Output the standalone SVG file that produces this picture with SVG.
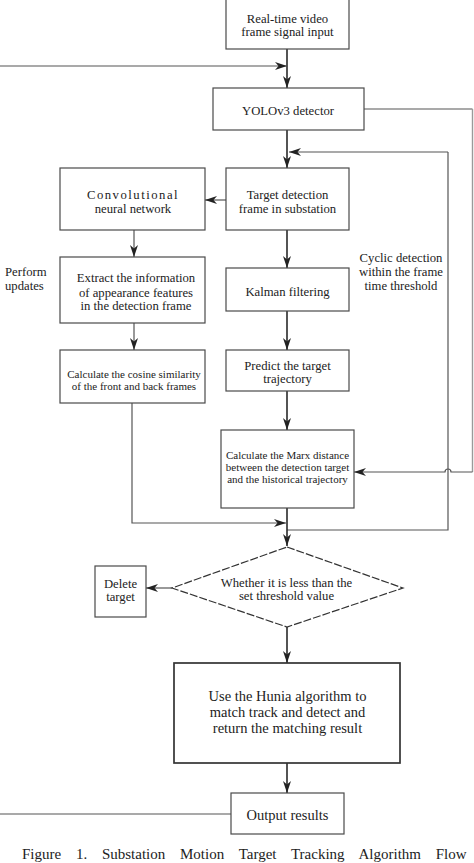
<svg xmlns="http://www.w3.org/2000/svg" width="474" height="863" viewBox="0 0 474 863">
<style>
.box{fill:#fff;stroke:#4a4a4a;stroke-width:1.2}
.thick{stroke-width:1.7;stroke:#333}
.dia{fill:#fff;stroke:#333;stroke-width:1.2;stroke-dasharray:8 2}
.t{font-size:12.7px;fill:#222;text-anchor:middle}
.s{font-size:11px}
.l{font-size:14.5px}
.ln{fill:none;stroke:#555;stroke-width:1.2}
.mn{fill:none;stroke:#2a2a2a;stroke-width:1.6}
.lt{fill:none;stroke:#9a9a9a;stroke-width:1.4}
</style>
<defs>
<marker id="ar" markerUnits="userSpaceOnUse" markerWidth="12" markerHeight="8" refX="12" refY="4" orient="auto" viewBox="0 0 12 8">
<path d="M0,0 L12,4 L0,8 L3.5,4 z" fill="#222"/>
</marker>
</defs>
<rect width="474" height="863" fill="#fff"/>
<g font-family="'Liberation Serif', serif">
<g id="connectors">
<path class="mn" d="M287,49 V88" marker-end="url(#ar)"/>
<path class="ln" d="M0,66 H287" marker-end="url(#ar)"/>
<path class="mn" d="M287,130 V168" marker-end="url(#ar)"/>
<path class="ln" d="M364,109 H472.5"/>
<path class="lt" d="M472.5,109 V472"/>
<path class="ln" d="M472.5,472 H451 A3,3 0 0 0 445,472 H354" marker-end="url(#ar)"/>
<path class="ln" d="M448,152 H289" marker-end="url(#ar)"/>
<path class="ln" d="M448,152 V530 H287"/>
<path class="ln" d="M226,200 H205" marker-end="url(#ar)"/>
<path class="ln" d="M134,230 V257" marker-end="url(#ar)"/>
<path class="mn" d="M287,230 V268" marker-end="url(#ar)"/>
<path class="ln" d="M134,323 V350" marker-end="url(#ar)"/>
<path class="mn" d="M287,311 V350" marker-end="url(#ar)"/>
<path class="mn" d="M287,391 V430" marker-end="url(#ar)"/>
<path class="ln" d="M132,403 V523 H286" marker-end="url(#ar)"/>
<path class="mn" d="M287,508 V546" marker-end="url(#ar)"/>
<path class="ln" d="M172,588 H146" marker-end="url(#ar)"/>
<path class="mn" d="M287,627 V663" marker-end="url(#ar)"/>
<path class="mn" d="M287,763 V793" marker-end="url(#ar)"/>
<path class="ln" d="M231,814 H0"/>
</g>
<g id="n_input">
<rect class="box" x="226" y="-1" width="123" height="50"/>
<text class="t" x="287.5" y="23">Real-time video</text>
<text class="t" x="287.5" y="36">frame signal input</text>
</g>
<g id="n_yolo">
<rect class="box" x="213" y="88" width="151" height="42"/>
<text class="t" x="288" y="115">YOLOv3 detector</text>
</g>
<g id="n_target">
<rect class="box" x="226" y="168" width="123" height="62"/>
<text class="t" x="287.5" y="199">Target detection</text>
<text class="t" x="287.5" y="213">frame in substation</text>
</g>
<g id="n_cnn">
<rect class="box" x="60" y="168" width="145" height="62"/>
<text class="t" x="133" y="199" letter-spacing="1.5">Convolutional</text>
<text class="t" x="133" y="213">neural network</text>
</g>
<g id="n_extract">
<rect class="box" x="60" y="257" width="145" height="66"/>
<text class="t" x="136" y="282">Extract the information</text>
<text class="t" x="136" y="297">of appearance features</text>
<text class="t" x="136" y="310">in the detection frame</text>
</g>
<g id="n_kalman">
<rect class="box" x="226" y="268" width="123" height="43"/>
<text class="t" x="287.5" y="296">Kalman filtering</text>
</g>
<g id="n_cosine">
<rect class="box" x="60" y="350" width="145" height="53"/>
<text class="t s" x="134" y="378">Calculate the cosine similarity</text>
<text class="t s" x="134" y="390">of the front and back frames</text>
</g>
<g id="n_predict">
<rect class="box" x="226" y="350" width="123" height="41"/>
<text class="t" x="287.5" y="370">Predict the target</text>
<text class="t" x="287.5" y="383">trajectory</text>
</g>
<g id="n_marx">
<rect class="box" x="221" y="430" width="133" height="78"/>
<text class="t s" x="287.5" y="459">Calculate the Marx distance</text>
<text class="t s" x="287.5" y="471">between the detection target</text>
<text class="t s" x="287.5" y="483">and the historical trajectory</text>
</g>
<g id="n_decision">
<polygon class="dia" points="287,547 403,588 287,627 172,588"/>
<text class="t" x="286.5" y="587">Whether it is less than the</text>
<text class="t" x="286.5" y="600">set threshold value</text>
</g>
<g id="n_delete">
<rect class="box" x="95" y="566" width="51" height="51"/>
<text class="t" x="120.5" y="588">Delete</text>
<text class="t" x="120.5" y="601">target</text>
</g>
<g id="n_hunia">
<rect class="box thick" x="174" y="663" width="226" height="100"/>
<text class="t l" x="287.5" y="701">Use the Hunia algorithm to</text>
<text class="t l" x="287.5" y="717">match track and detect and</text>
<text class="t l" x="287.5" y="733">return the matching result</text>
</g>
<g id="n_output">
<rect class="box" x="231" y="793" width="113" height="41"/>
<text class="t l" x="287.5" y="820">Output results</text>
</g>
<g id="labels">
<text class="t" x="5" y="276" style="text-anchor:start">Perform</text>
<text class="t" x="5" y="290" style="text-anchor:start">updates</text>
<text class="t" x="401" y="262">Cyclic detection</text>
<text class="t" x="401" y="276">within the frame</text>
<text class="t" x="401" y="290">time threshold</text>
<text x="22" y="859" font-size="15" fill="#222" word-spacing="11">Figure 1. Substation Motion Target Tracking Algorithm Flow</text>
</g>
</g>
</svg>
